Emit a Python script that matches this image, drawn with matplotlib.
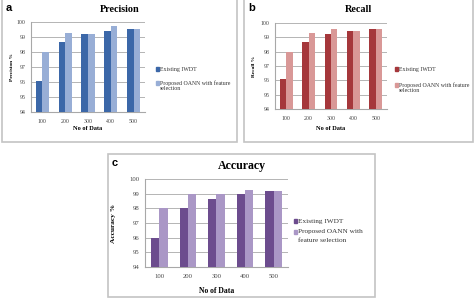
import matplotlib.pyplot as plt
from matplotlib.patches import Rectangle
import numpy as np

# datos
categorias = ["100", "200", "300", "400", "500"]
precision_iwdt = [96.1, 98.65, 99.2, 99.4, 99.55]
precision_oann = [98.0, 99.3, 99.2, 99.7, 99.55]
recall_iwdt = [96.1, 98.65, 99.2, 99.45, 99.55]
recall_oann = [98.0, 99.3, 99.6, 99.45, 99.55]
accuracy_iwdt = [96.0, 98.0, 98.65, 99.0, 99.2]
accuracy_oann = [98.0, 99.0, 99.0, 99.25, 99.2]

W, H = 474, 303
fig = plt.figure(figsize=(W / 100, H / 100), dpi=100)
fig.patch.set_facecolor("white")
serif = "Liberation Serif"


def fx(x):
    return x / W


def fy(y):
    return 1 - y / H


def panel(caja, ejes, letra, titulo, ylabel, v1, v2, c1, c2, estilo):
    x0, y0, x1, y1 = caja
    fig.patches.append(Rectangle((fx(x0), fy(y1)), (x1 - x0) / W, (y1 - y0) / H,
                                 transform=fig.transFigure, fill=False,
                                 edgecolor="#c4c4c4", linewidth=1.2))
    fig.text(fx(x0 + 4), fy(y0 + 9), letra, fontsize=8, weight="bold",
             ha="left", va="center", family="Liberation Sans")
    # titulo centrado en el panel, no en los ejes
    fig.text(fx((x0 + x1) / 2), fy(estilo["ty"]), titulo, family=serif, weight="bold",
             fontsize=estilo["tfs"], ha="center", va="center")
    a0, b0, a1, b1 = ejes
    ax = fig.add_axes([fx(a0), fy(b1), (a1 - a0) / W, (b1 - b0) / H])
    x = np.arange(len(categorias))
    w = 0.29
    ax.bar(x - w / 2, np.array(v1) - 94, w, bottom=94, color=c1, zorder=3)
    ax.bar(x + w / 2, np.array(v2) - 94, w, bottom=94, color=c2, zorder=3)
    ax.set_ylim(94, 100)
    ax.set_xlim(-0.5, 4.5)
    ax.set_yticks(range(94, 101))
    ax.set_xticks(x)
    ax.set_xticklabels(categorias)
    ax.tick_params(labelsize=estilo["kfs"], length=0, colors="#444444")
    ax.tick_params(axis="y", pad=4)
    ax.tick_params(axis="x", pad=5)
    for t in ax.get_xticklabels() + ax.get_yticklabels():
        t.set_family(serif)
    ax.grid(axis="y", color="#a8a8a8", linewidth=0.6, zorder=0)
    for s in ["top", "right"]:
        ax.spines[s].set_visible(False)
    ax.spines["left"].set_color("#a8a8a8")
    ax.spines["bottom"].set_color("#a8a8a8")
    ax.set_xlabel("No of Data", family=serif, weight="bold", fontsize=estilo["xfs"])
    ax.xaxis.set_label_coords(0.5, -(estilo["xly"] - b1) / (b1 - b0))
    ax.set_ylabel(ylabel, family=serif, weight="bold", fontsize=estilo["yfs"])
    ax.yaxis.set_label_coords(-(a0 - estilo["ylx"]) / (a1 - a0), 0.5)
    # leyenda manual
    lx = estilo["lx"]
    for i, (lineas, c) in enumerate(zip(estilo["lab"], [c1, c2])):
        yy = estilo["ly"][i]
        fig.patches.append(Rectangle((fx(lx), fy(yy + 1.5)), 3 / W, 3.5 / H,
                                     transform=fig.transFigure, color=c))
        for j, linea in enumerate(lineas):
            fig.text(fx(lx + 4), fy(yy + j * estilo["lsp"]), linea, family=serif,
                     fontsize=estilo["lfs"], va="center", ha="left", color="#333333")
    return ax


est_ab = dict(ty=10, tfs=7.3, kfs=4.2, xfs=4.6, xly=126, yfs=3.9, ylx=14,
              lfs=4.2, lx=156, ly=[69, 83], lsp=6,
              lab=[["Existing IWDT"], ["Proposed OANN with feature", "selection"]])
est_b = dict(est_ab, ly=[69, 85], ylx=256, lx=395)
est_c = dict(ty=166, tfs=8.6, kfs=4.8, xfs=5.5, xly=287, yfs=5.3, ylx=116,
             lfs=5.2, lx=294, ly=[221, 232], lsp=9,
             lab=[["Existing IWDT"], ["Proposed OANN with", "feature selection"]])

panel((2, -1, 237, 142), (31, 22, 145, 112), "a", "Precision", "Precision %",
      precision_iwdt, precision_oann, "#3b67a8", "#98aed6", est_ab)
panel((244, -1, 473, 142), (275, 23, 387, 109), "b", "Recall", "Recall %",
      recall_iwdt, recall_oann, "#a5373b", "#d99897", est_b)
panel((108, 154, 375, 297), (145, 179, 288, 267), "c", "Accuracy", "Accuracy %",
      accuracy_iwdt, accuracy_oann, "#6c4c8e", "#aa97c6", est_c)

fig.savefig("out.png", dpi=100)
